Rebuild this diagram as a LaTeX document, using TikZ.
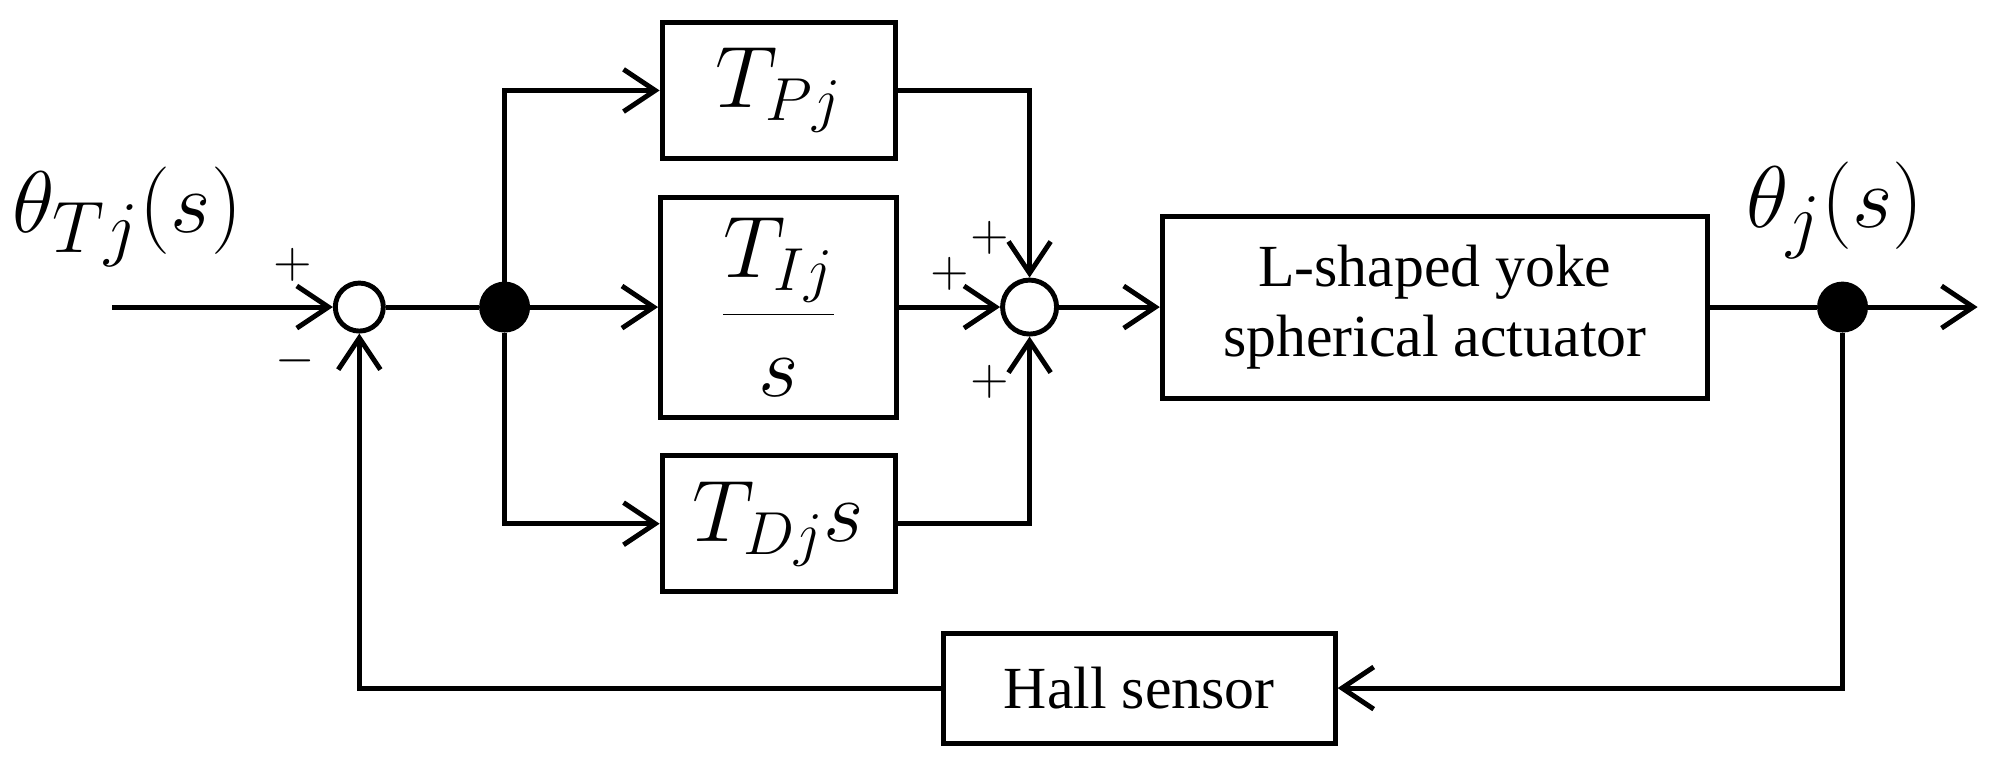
\documentclass[tikz,border=0pt]{standalone}
\usepackage{fontspec}
\setmainfont{Liberation Serif}
\usetikzlibrary{arrows.meta}
\begin{document}
\begin{tikzpicture}[x=0.01274cm,y=-0.01274cm,
  line width=1.4pt,
  arr/.style={-{Straight Barb[length=9pt,width=12pt,line width=1.4pt]}},
  blk/.style={draw,line width=1.4pt,inner sep=0pt},
  sum/.style={draw,circle,fill=white,minimum size=0.48cm,inner sep=0pt},
  dot/.style={draw,circle,fill=black,minimum size=0.46cm,inner sep=0pt},
  lab/.style={font=\fontsize{17}{20}\selectfont}]
\useasboundingbox (0,0) rectangle (1568,605);
\coordinate (in) at (88,241);
\node[sum] (s1) at (282,241) {};
\node[dot] (br) at (396,241) {};
\node[blk,minimum width=2.33cm,minimum height=1.36cm] (tp) at (611,71) {\fontsize{27}{32}\selectfont $T_{Pj}$};
\node[blk,minimum width=2.36cm,minimum height=2.2cm] (ti) at (611,241) {\fontsize{27}{32}\selectfont $\displaystyle\frac{T_{Ij}}{s}$};
\node[blk,minimum width=2.33cm,minimum height=1.36cm] (td) at (611,411) {\fontsize{27}{32}\selectfont $T_{Dj}s$};
\node[sum,minimum size=0.54cm] (s2) at (808,241) {};
\node[blk,minimum width=5.45cm,minimum height=1.82cm,align=center,lab] (act) at (1126,241) {L-shaped yoke\\spherical actuator};
\node[dot] (out) at (1446,241) {};
\coordinate (end) at (1552,241);
\node[blk,minimum width=3.92cm,minimum height=1.1cm,lab] (hall) at (894,540) {Hall sensor};
\node[font=\fontsize{28}{32}\selectfont] (tin) at (100,170) {$\theta_{Tj}(s)$};
\node[font=\fontsize{28}{32}\selectfont] (tout) at (1440,165) {$\theta_{j}(s)$};
\node[font=\fontsize{15}{18}\selectfont] (p1) at (230,208) {$+$};
\node[font=\fontsize{15}{18}\selectfont] (m1) at (232,283) {$-$};
\node[font=\fontsize{15}{18}\selectfont] (p2) at (777,187) {$+$};
\node[font=\fontsize{15}{18}\selectfont] (p3) at (745,215) {$+$};
\node[font=\fontsize{15}{18}\selectfont] (p4) at (777,300) {$+$};
\draw[arr] (in) -- (s1);
\draw (s1) -- (br);
\draw[arr] (br) |- (tp.west);
\draw[arr] (br) -- (ti.west);
\draw[arr] (br) |- (td.west);
\draw[arr] (tp.east) -| (s2.north);
\draw[arr] (ti.east) -- (s2.west);
\draw[arr] (td.east) -| (s2.south);
\draw[arr] (s2) -- (act);
\draw (act) -- (out);
\draw[arr] (out) -- (end);
\draw[arr] (out) |- (hall.east);
\draw[arr] (hall.west) -| (s1.south);
\end{tikzpicture}
\end{document}
